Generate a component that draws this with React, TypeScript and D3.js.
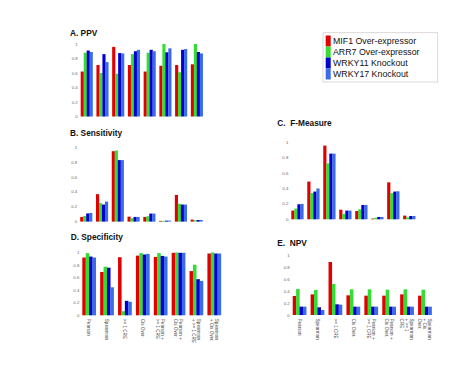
import React from "react";
import * as d3 from "d3";

const seriesNames = ["MIF1 Over-expressor", "ARR7 Over-expressor", "WRKY11 Knockout", "WRKY17 Knockout"];
const seriesColors = ["#e00000", "#33dd33", "#0000cc", "#3b6be6"];
const categories = ["Pearson", "Spearman", ">= 1 CRE", "Cis Over.", "Pearson + >= 1 CRE", "Pearson + Cis Over.", "Spearman + >= 1 CRE", "Spearman + Cis Over."];
const tickValues = [0, 0.2, 0.4, 0.6, 0.8, 1];
const tickLabels = ["0", "0.2", "0.4", "0.6", "0.8", "1"];

const labelLinesD = [["Pearson"], ["Spearman"], [">= 1 CRE"], ["Cis Over."], ["Pearson +", ">= 1 CRE"], ["Pearson +", "Cis Over."], ["Spearman", "+ >= 1 CRE"], ["Spearman", "+ Cis Over."]];
const labelLinesE = [["Pearson"], ["Spearman"], [">= 1 CRE"], ["Cis Over."], ["Pearson +", ">= 1 CRE"], ["Pearson +", "Cis Over."], ["Spearman", "+ >= 1", "CRE"], ["Spearman", "+ Cis", "Over."]];

// values per category: [MIF1, ARR7, WRKY11, WRKY17]
const ppv = [[0.62, 0.88, 0.91, 0.89], [0.71, 0.6, 0.86, 0.75], [0.96, 0.59, 0.875, 0.87], [0.71, 0.86, 0.9, 0.92], [0.62, 0.88, 0.92, 0.9], [0.7, 1.0, 0.885, 0.94], [0.71, 0.61, 0.92, 0.93], [0.72, 1.0, 0.89, 0.87]];
const sensitivity = [[0.063, 0.076, 0.11, 0.117], [0.37, 0.25, 0.23, 0.27], [0.95, 0.96, 0.83, 0.83], [0.067, 0.045, 0.063, 0.063], [0.063, 0.072, 0.108, 0.108], [0.01, 0.01, 0.013, 0.013], [0.36, 0.24, 0.23, 0.23], [0.027, 0.018, 0.022, 0.022]];
const fMeasure = [[0.113, 0.139, 0.195, 0.2], [0.49, 0.34, 0.36, 0.4], [0.957, 0.727, 0.853, 0.853], [0.125, 0.07, 0.113, 0.113], [0.108, 0.13, 0.186, 0.186], [0.01, 0.02, 0.03, 0.03], [0.48, 0.34, 0.36, 0.364], [0.048, 0.026, 0.043, 0.043]];
const specificity = [[0.92, 0.99, 0.935, 0.92], [0.69, 0.774, 0.758, 0.446], [0.925, 0.065, 0.23, 0.215], [0.95, 0.99, 0.968, 0.978], [0.93, 0.99, 0.946, 0.935], [0.995, 1.0, 0.995, 0.995], [0.704, 0.806, 0.575, 0.548], [0.984, 1.0, 0.984, 0.984]];
const npv = [[0.317, 0.433, 0.139, 0.139], [0.344, 0.417, 0.128, 0.083], [0.883, 0.517, 0.178, 0.172], [0.328, 0.428, 0.139, 0.139], [0.322, 0.428, 0.139, 0.139], [0.322, 0.422, 0.139, 0.139], [0.344, 0.428, 0.139, 0.139], [0.322, 0.422, 0.139, 0.139]];

type Panel = {
  title: string;
  data: number[][];
  x0: number;
  x1: number;
  yTop: number;
  yBottom: number;
  tx: number;
  ty: number;
  labels?: string[][];
};

const panels: Panel[] = [
  { title: "A. PPV", data: ppv, x0: 80.7, x1: 202.8, yTop: 44, yBottom: 116.5, tx: 70, ty: 36.3 },
  { title: "B. Sensitivity", data: sensitivity, x0: 80.2, x1: 202.6, yTop: 147.5, yBottom: 221.6, tx: 70, ty: 136.3 },
  { title: "C.\u00a0 F-Measure", data: fMeasure, x0: 291.3, x1: 415.3, yTop: 142.3, yBottom: 219.3, tx: 277.3, ty: 125.7 },
  { title: "D. Specificity", data: specificity, x0: 82.3, x1: 221, yTop: 252.5, yBottom: 315.3, tx: 70.7, ty: 240.3, labels: labelLinesD },
  { title: "E.\u00a0 NPV", data: npv, x0: 292.7, x1: 431.7, yTop: 255, yBottom: 315, tx: 277.3, ty: 246.3, labels: labelLinesE },
];

const FONT = "'Liberation Sans', Arial, Helvetica, sans-serif";

function BarPanel({ p }: { p: Panel }) {
  const x = d3.scaleBand<string>().domain(categories).range([p.x0, p.x1]).paddingInner(0.24).paddingOuter(0);
  const xs = d3.scaleBand<string>().domain(seriesNames).range([0, x.bandwidth()]).padding(0);
  const y = d3.scaleLinear().domain([0, 1]).range([p.yBottom, p.yTop]);
  return (
    <g>
      <text x={p.tx} y={p.ty} fontFamily={FONT} fontWeight="bold" fontSize={8.3} fill="#111">
        {p.title}
      </text>
      {tickValues.map((t, i) => (
        <text key={t} x={p.x0 - 3} y={y(t)} dy="0.35em" textAnchor="end" fontFamily={FONT} fontSize={4.3} fill="#666">
          {tickLabels[i]}
        </text>
      ))}
      {p.data.map((vals, ci) => (
        <g key={ci}>
          {vals.map((v, si) => (
            <rect
              key={si}
              x={(x(categories[ci]) as number) + (xs(seriesNames[si]) as number)}
              y={y(v)}
              width={xs.bandwidth() + 0.15}
              height={y(0) - y(v)}
              fill={seriesColors[si]}
            />
          ))}
        </g>
      ))}
      {p.labels &&
        p.labels.map((lines, ci) => {
          const cx = (x(categories[ci]) as number) + x.bandwidth() / 2;
          const y0 = p.yBottom + 3.5;
          const lh = 5;
          return (
            <text
              key={ci}
              transform={`translate(${cx},${y0}) rotate(90)`}
              fontFamily={FONT}
              fontSize={4.6}
              fill="#444"
            >
              {lines.map((ln, li) => (
                <tspan key={li} x={0} y={(li - (lines.length - 1) / 2) * lh} dy="0.35em">
                  {ln}
                </tspan>
              ))}
            </text>
          );
        })}
    </g>
  );
}

function Legend() {
  const x0 = 323,
    y0 = 32.7,
    w = 114.7,
    h = 49.3;
  const rowH = 11;
  return (
    <g>
      <rect x={x0} y={y0} width={w} height={h} fill="#fff" stroke="#d0d0d0" strokeWidth={0.8} />
      {seriesNames.map((s, i) => (
        <g key={s}>
          <rect x={325.7} y={35.5 + i * rowH} width={5} height={rowH} fill={seriesColors[i]} />
          <text x={333} y={41 + i * rowH} dy="0.35em" fontFamily={FONT} fontSize={8.8} fill="#111">
            {s}
          </text>
        </g>
      ))}
    </g>
  );
}

export default function App() {
  return (
    <svg
      width={474}
      height={366}
      viewBox="0 0 474 366"
      style={{ position: "absolute", left: 0, top: 0, background: "#fff" }}
    >
      <rect x={0} y={0} width={474} height={366} fill="#fff" />
      {panels.map((p) => (
        <BarPanel key={p.title} p={p} />
      ))}
      <Legend />
    </svg>
  );
}
